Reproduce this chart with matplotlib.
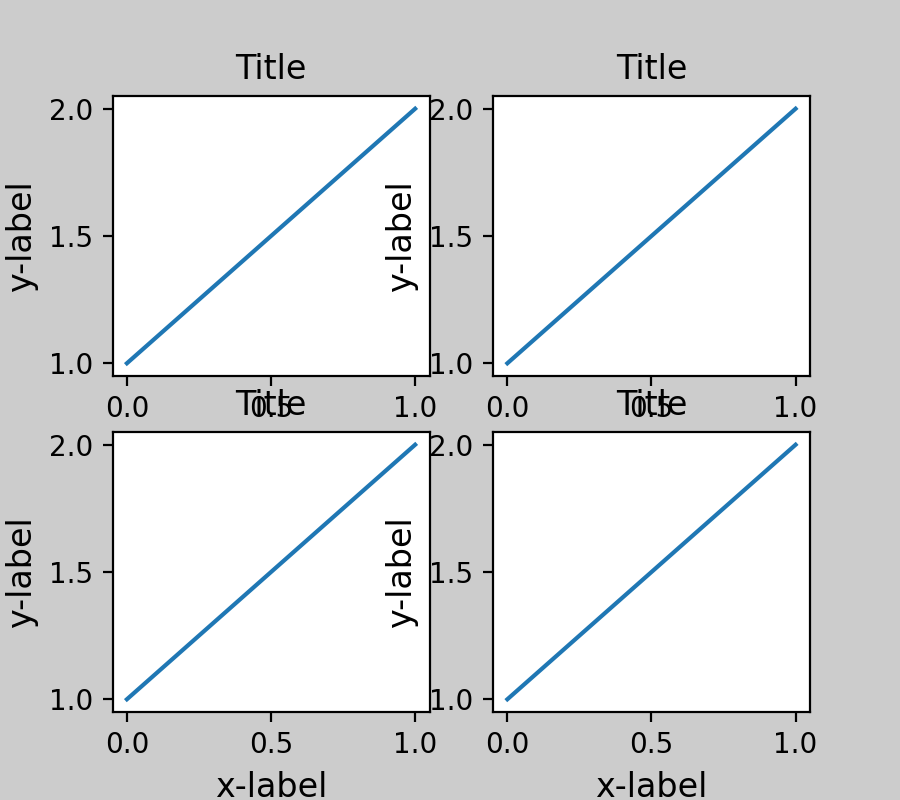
import matplotlib
matplotlib.use("Agg")
import matplotlib.pyplot as plt

x_vals = [0, 1]
y_vals = [1, 2]
title_text = "Title"
x_label = "x-label"
y_label = "y-label"

plt.rcParams['savefig.facecolor'] = "0.8"


def example_plot(ax, fontsize=12):
    ax.plot(x_vals, y_vals)
    ax.locator_params(nbins=3)
    ax.set_xlabel(x_label, fontsize=fontsize)
    ax.set_ylabel(y_label, fontsize=fontsize)
    ax.set_title(title_text, fontsize=fontsize)


fig, axs = plt.subplots(2, 2, figsize=(4.5, 4), facecolor="0.8")
for ax in axs.flat:
    example_plot(ax)

fig.savefig("out.png", dpi=200)
